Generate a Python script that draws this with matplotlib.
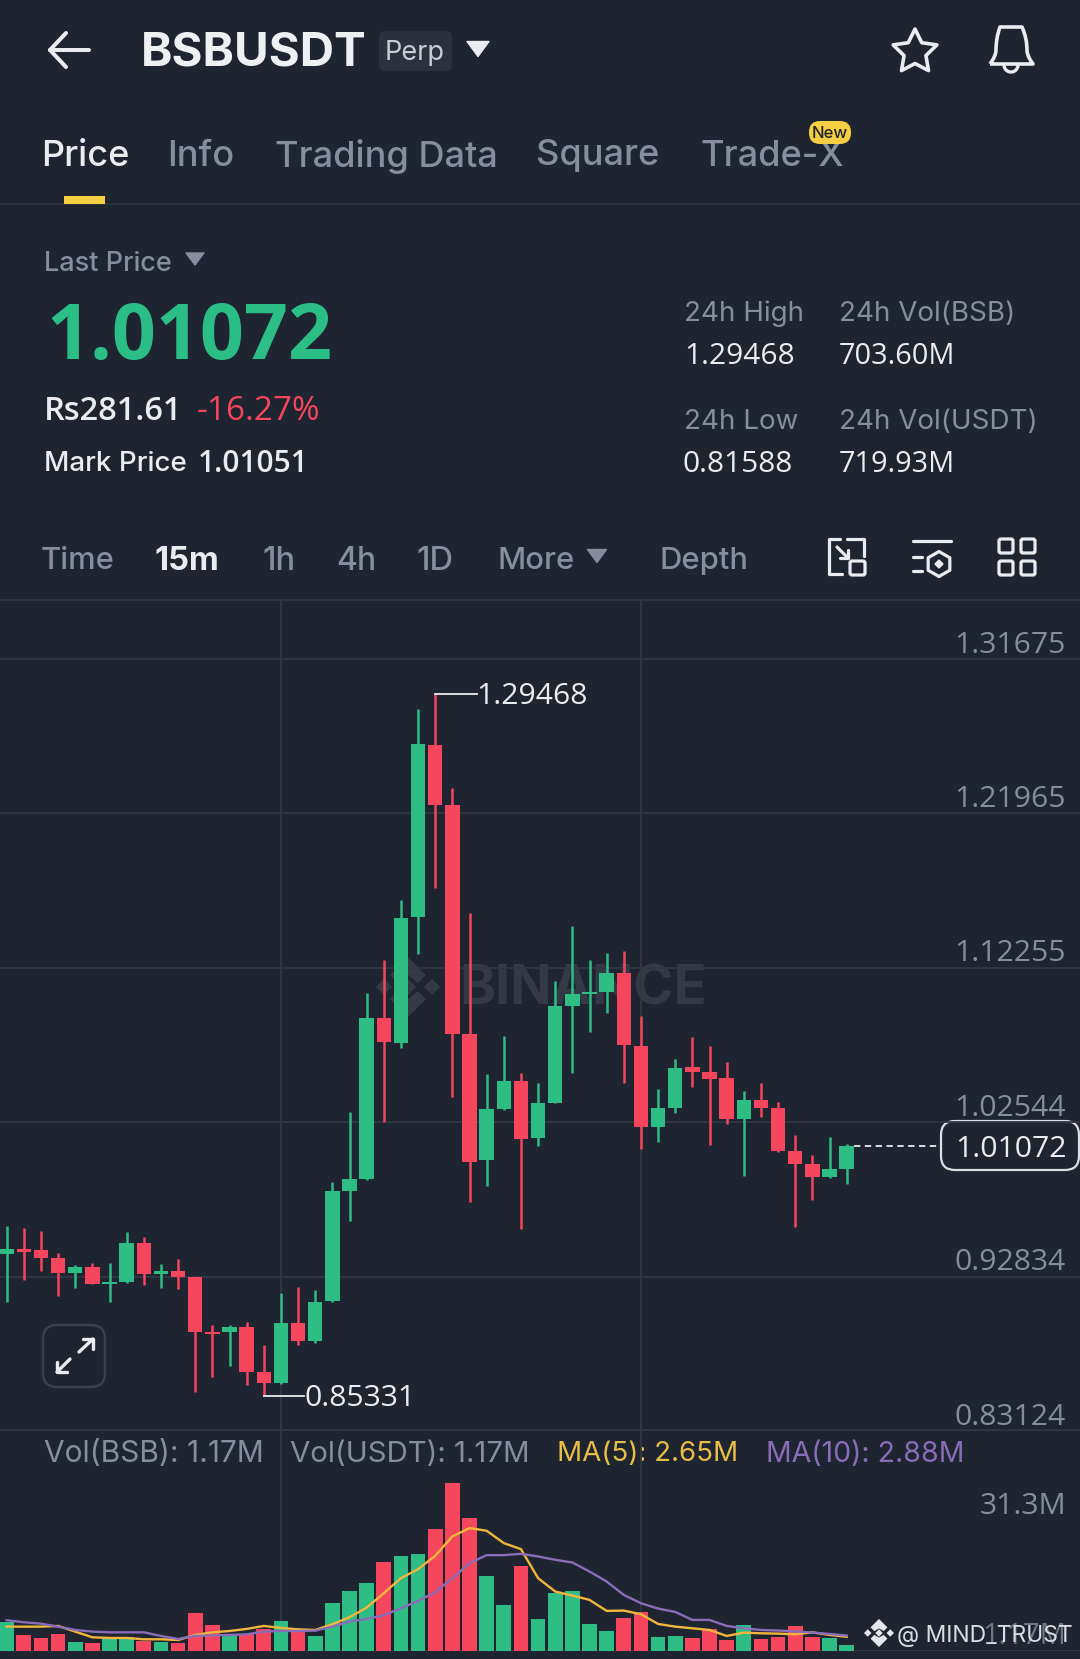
import numpy as np
import matplotlib
matplotlib.use("Agg")
import matplotlib.pyplot as plt
from matplotlib.patches import FancyBboxPatch, Polygon, Rectangle, PathPatch
from matplotlib.path import Path

# ---------- data ----------
opens = [0.9426,0.9457,0.9453,0.9400,0.9306,0.9342,0.9237,0.9252,0.9493,0.9300,
         0.9317,0.9281,0.8937,0.8935,0.8967,0.8686,0.8616,0.8990,0.8881,0.9128,
         0.9824,0.9897,1.0908,1.0753,1.1542,1.2629,1.2249,1.0812,1.0019,1.0340,
         1.0513,1.0156,1.0378,1.0983,1.1063,1.1075,1.1194,1.0734,1.0224,1.0342,
         1.0599,1.0568,1.0530,1.0277,1.0394,1.0344,1.0073,0.9992,0.9910,0.9960]
closes = [0.9457,0.9440,0.9400,0.9308,0.9342,0.9235,0.9252,0.9493,0.9302,0.9317,
          0.9283,0.8937,0.8920,0.8969,0.8686,0.8616,0.8990,0.8878,0.9126,0.9824,
          0.9895,1.0908,1.0758,1.1537,1.2631,1.2252,1.0810,1.0003,1.0340,1.0515,
          1.0151,1.0374,1.0987,1.1059,1.1075,1.1194,1.0738,1.0226,1.0342,1.0597,
          1.0570,1.0528,1.0277,1.0394,1.0344,1.0073,0.9994,0.9910,0.9958,1.01072]
highs = [0.9604,0.9587,0.9572,0.9430,0.9359,0.9367,0.9367,0.9562,0.9530,0.9361,
         0.9392,0.9281,0.8981,0.8979,0.8996,0.8851,0.9182,0.9220,0.9197,0.9881,
         1.0317,1.1070,1.1272,1.1650,1.2856,1.29468,1.2359,1.1571,1.0560,1.0796,
         1.0565,1.0502,1.1144,1.1486,1.1277,1.1317,1.1333,1.0924,1.0461,1.0650,
         1.0788,1.0736,1.0631,1.0451,1.0501,1.0379,1.0172,1.0048,1.0159,1.0115]
lows = [0.9122,0.9262,0.9321,0.9164,0.9214,0.9235,0.9122,0.9245,0.9231,0.9210,
        0.9206,0.8556,0.8650,0.8721,0.8602,0.85331,0.8610,0.8855,0.8864,0.9126,
        0.9633,0.9891,1.0255,1.0722,1.1310,1.1730,1.0416,0.9752,0.9853,1.0333,
        0.9581,1.0104,1.0378,1.0565,1.0823,1.0942,1.0504,1.0084,1.0132,1.0314,
        1.0478,1.0111,1.0243,0.9918,1.0285,1.0065,0.9597,0.9765,0.9906,0.9868]
volumes = [5.41,3.05,2.49,3.11,1.74,1.43,2.68,2.61,1.93,1.68,
           1.43,7.03,4.85,3.17,3.17,4.04,5.54,3.48,2.74,9.02,
           11.26,12.63,16.49,17.61,18.05,22.78,31.3,24.83,14.0,8.53,
           15.87,5.91,10.89,11.26,4.98,3.73,6.16,7.28,2.68,2.80,
           2.36,4.17,2.12,4.79,2.18,2.55,4.73,2.55,2.36,1.17]
ma5 = [4.54,4.54,4.54,4.67,3.61,2.55,2.43,2.43,2.18,2.18,
       2.05,2.99,3.48,3.73,4.11,4.67,4.29,4.04,3.92,4.98,
       6.29,8.09,10.77,13.57,15.25,17.74,21.35,22.9,22.4,20.1,
       18.98,13.57,11.08,10.33,9.52,7.47,7.53,6.85,5.04,4.54,
       4.23,3.92,2.80,3.42,3.30,3.24,3.11,3.48,2.99,2.65]
ma10 = [5.73,5.35,5.10,4.54,3.92,3.61,3.48,3.48,3.48,2.80,
        2.24,2.80,2.92,2.99,3.11,3.61,3.73,3.73,3.80,4.54,
        5.48,5.97,6.66,7.97,9.33,10.95,13.57,16.37,17.86,17.86,
        18.11,17.61,16.99,16.49,14.81,12.94,10.45,8.90,7.90,7.28,
        5.79,5.79,4.67,4.23,3.92,3.80,3.67,3.42,3.17,2.88]
price_ticks = [1.31675,1.21965,1.12255,1.02544,0.92834,0.83124]
price_labels = ["1.31675","1.21965","1.12255","1.02544","0.92834","0.83124"]
vgrid_candles = [16, 37]
tabs = ["Price","Info","Trading Data","Square","Trade-X"]
intervals = ["Time","15m","1h","4h","1D","More","Depth"]
last_price = 1.01072
day_high = 1.29468
period_low = 0.85331

# ---------- style ----------
BG = "#1E2430"; GRID = "#303642"; GREEN = "#2EBD85"; RED = "#F6465D"
GRAY = "#848E9C"; WHITE = "#EAECEF"; PUR = "#8A6DB8"; LINE = "#2E343F"
NUM = ['Open Sans', 'DejaVu Sans']
plt.rcParams['font.family'] = ['Inter', 'DejaVu Sans']
W, H = 1080, 1659
fig = plt.figure(figsize=(W/100, H/100), dpi=100, facecolor=BG)

def px_axes(l, t, r, b, z):
    return fig.add_axes([l/W, 1-b/H, (r-l)/W, (b-t)/H], zorder=z)

ui = px_axes(0, 0, W, H, 0)
ui.set_xlim(0, W); ui.set_ylim(H, 0); ui.axis("off"); ui.set_facecolor(BG)

def T(x, y, s, size, color=GRAY, weight="normal", ha="left", dy=3, **k):
    return ui.text(x, y+dy, s, fontsize=size, color=color, fontweight=weight, ha=ha, va="center", **k)

def tri(cx, cy, w, h, color):
    ui.add_patch(Polygon([[cx-w/2, cy-h/2], [cx+w/2, cy-h/2], [cx, cy+h/2]], closed=True, fc=color, ec=color, lw=1, joinstyle="round"))

def L(xs, ys, color=WHITE, lw=2.4, **k):
    ui.plot(xs, ys, color=color, lw=lw, solid_capstyle="round", solid_joinstyle="round", **k)

def rbox(x0, y0, x1, y1, r, fc="none", ec=WHITE, lw=2.0, z=2):
    ui.add_patch(FancyBboxPatch((x0+r, y0+r), x1-x0-2*r, y1-y0-2*r, boxstyle=f"round,pad={r},rounding_size={r}",
                                fc=fc, ec=ec, lw=lw, zorder=z))

def logo(cx, cy, R, color, z=1):
    s = R/32
    a, b, c, d = 30*s, 18*s, 10*s, 8*s
    ui.add_patch(Polygon([[cx, cy-a], [cx+b, cy-a+b], [cx+b-d, cy-a+b+d], [cx, cy-a+2*d+2], [cx-b+d, cy-a+b+d], [cx-b, cy-a+b]], closed=True, fc=color, ec="none", zorder=z))
    ui.add_patch(Polygon([[cx, cy+a], [cx+b, cy+a-b], [cx+b-d, cy+a-b-d], [cx, cy+a-2*d-2], [cx-b+d, cy+a-b-d], [cx-b, cy+a-b]], closed=True, fc=color, ec="none", zorder=z))
    for ox in (-24*s, 0, 24*s):
        ui.add_patch(Polygon([[cx+ox, cy-d], [cx+ox+d, cy], [cx+ox, cy+d], [cx+ox-d, cy]], closed=True, fc=color, ec="none", zorder=z))

# header
L([89, 50], [50, 50], lw=2.9); L([66, 50, 66], [33, 50, 67], lw=2.9)
T(141, 50, "BSBUSDT", 34.2, "#EEF0F2", "bold")
rbox(379, 31, 452, 71, 6, fc="#2B313C", ec="none", lw=0)
T(415, 50, "Perp", 19.5, "#C9CDD3", ha="center")
tri(478, 49, 22, 15, WHITE)
ang = np.arange(10)*np.pi/5 - np.pi/2
rad = np.where(np.arange(10) % 2 == 0, 23, 11.5)
ui.add_patch(Polygon(np.c_[915+rad*np.cos(ang), 52+rad*np.sin(ang)], closed=True, fc="none", ec=WHITE, lw=2.6, joinstyle="round"))
bell = Path([(990,64),(996,56),(996,50),(996,38),(1000,27),(1011,27),(1022,27),(1027,38),(1027,50),(1027,56),(1033,64),(990,64)],
            [Path.MOVETO,Path.CURVE3,Path.CURVE3,Path.CURVE3,Path.CURVE3,Path.CURVE3,Path.CURVE3,Path.CURVE3,Path.CURVE3,Path.CURVE3,Path.CURVE3,Path.LINETO])
ui.add_patch(PathPatch(bell, fc="none", ec=WHITE, lw=2.6, joinstyle="round"))
tt = np.linspace(0, np.pi, 20)
L(1011+7*np.cos(tt), 65+7*np.sin(tt))

# tabs
tab_x = [41, 167, 275, 536, 700]
for i, (x, s) in enumerate(zip(tab_x, tabs)):
    T(x, 152, s, 26, WHITE if i == 0 else GRAY, "medium", dy=4)
ui.add_patch(Rectangle((64, 196), 41, 7.5, fc="#F5CE42", ec="none", zorder=3))
ui.plot([0, W], [204, 204], color=LINE, lw=1.2)
rbox(809, 121, 851, 144, 11, fc="#F5CE42", ec="none", lw=0, z=4)
T(830, 133, "New", 12, "#1E2329", "medium", ha="center", dy=0, zorder=5)

# price block
T(44, 261, "Last Price", 19.5, GRAY, "medium")
tri(195, 259, 18, 12, GRAY)
T(46, 332, "1.01072", 55.5, "#2BBF87", "bold", dy=7, family=NUM)
T(44, 408, "Rs281.61", 23.5, WHITE, "semibold", family=NUM)
T(197, 408, "-16.27%", 24, RED, family=NUM)
T(44, 461, "Mark Price", 20, WHITE, "medium")
T(198, 461, "1.01051", 21.5, WHITE, "semibold", family=NUM)
T(684, 311, "24h High", 20); T(839, 311, "24h Vol(BSB)", 20)
T(684, 354, "1.29468", 21.5, WHITE, family=NUM); T(839, 354, "703.60M", 20.8, WHITE, family=NUM)
T(684, 419, "24h Low", 20); T(839, 419, "24h Vol(USDT)", 20)
T(683, 462, "0.81588", 21.5, WHITE, family=NUM); T(839, 462, "719.93M", 20.8, WHITE, family=NUM)

# interval bar
int_x = [41, 155, 262, 336, 417, 498, 660]
for x, s in zip(int_x, intervals):
    active = s == "15m"
    T(x, 558, s, 23.5 if active or s in ("1h", "1D") else (23 if s == "4h" else 22.3),
      WHITE if active else GRAY, "bold" if active else "medium")
tri(597, 556, 19, 13, GRAY)
ui.plot([0, W], [600, 600], color=LINE, lw=1.5)
# icon 1
L([840, 829, 829, 842], [539, 539, 574, 574], lw=2.3); L([847, 864, 864], [539, 539, 556], lw=2.3)
rbox(850, 561, 865, 575, 2, ec=WHITE, lw=2.3)
L([837, 848], [547, 558], lw=2.3); L([840, 848, 848], [558, 558, 550], lw=2.3)
# icon 2
L([913, 951], [541, 541], lw=2.3); L([913, 922], [557, 557], lw=2.3); L([913, 922], [571, 571], lw=2.3)
hx = 939+12.5*np.cos(np.arange(7)*np.pi/3+np.pi/2); hy = 564+12.5*np.sin(np.arange(7)*np.pi/3+np.pi/2)
L(hx, hy, lw=2.3)
ui.add_patch(Polygon([[939, 560], [943, 564], [939, 568], [935, 564]], closed=True, fc=WHITE, ec=WHITE))
# icon 3
for x0 in (999, 1021):
    for y0 in (539, 561):
        rbox(x0, y0, x0+14, y0+14, 2, ec=WHITE, lw=2.3)

# BINANCE watermark
WM = "#343A45"
logo(408, 987, 32, WM)
T(459, 987, "BINANCE", 39, WM, "bold", dy=3)

# ---------- price chart ----------
idx = np.arange(len(opens))
SP = 840/49
x0 = -6.67/SP
x1 = x0 + W/SP
Y_TOP, Y_BOT = 600, 1431
pppx = (price_ticks[0]-price_ticks[-1])/(Y_BOT-659)
ax = px_axes(0, Y_TOP, W, Y_BOT, 1)
ax.patch.set_alpha(0)
ax.set_xlim(x0, x1)
ax.set_ylim(price_ticks[-1], price_ticks[0]+(659-Y_TOP)*pppx)
for s in ax.spines.values():
    s.set_visible(False)
ax.tick_params(length=0, labelbottom=False, labelleft=False)
ax.set_xticks(vgrid_candles); ax.set_yticks(price_ticks)
ax.grid(True, color=GRID, lw=1.3); ax.set_axisbelow(True)
ax.hlines(price_ticks[-1], x0, x1, color=GRID, lw=2.6, zorder=1)

o, c, h, l = map(np.array, (opens, closes, highs, lows))
cols = np.where(c >= o, GREEN, RED)
ax.vlines(idx, l, h, colors=cols, lw=1.8, zorder=3)
ax.bar(idx, np.abs(c-o), bottom=np.minimum(o, c), width=0.84, color=cols, lw=0, zorder=4)

trY = ax.get_yaxis_transform()
for p, s in zip(price_ticks, price_labels):
    ax.annotate(s, (1, p), xycoords=trY, xytext=(-14/1.389, 14/1.389), textcoords="offset points",
                ha="right", va="center", fontsize=21.7, color=GRAY, zorder=2, family=NUM)

# last price tag
ax.plot([idx[-1]+0.4, (938-6.67)/SP], [last_price]*2, color=WHITE, lw=1.3, dashes=(3.5, 2.5), zorder=5)
ax.annotate(f"{last_price:.5f}", ((1011-6.67)/SP, last_price), xytext=(0, -3), textcoords="offset points",
            fontsize=21.7, color=WHITE, ha="center", va="center", zorder=7, family=NUM)
rbox(941, 1121, 1079, 1170, 14, fc=BG, ec="#DDE0E4", lw=1.6, z=6)

# extrema annotations
i_hi = int(np.argmax(h)); i_lo = int(np.argmin(l))
ax.plot([i_hi, i_hi+2.45], [day_high]*2, color=WHITE, lw=1.3, zorder=5)
ax.annotate(f"{day_high:.5f}", (i_hi+2.42, day_high), xytext=(0, -2), textcoords="offset points",
            fontsize=21.7, color=WHITE, ha="left", va="center", zorder=5, family=NUM)
ax.plot([i_lo, i_lo+2.35], [period_low]*2, color=WHITE, lw=1.3, zorder=5)
ax.annotate(f"{period_low:.5f}", (i_lo+2.38, period_low), xytext=(0, -2), textcoords="offset points",
            fontsize=21.7, color=WHITE, ha="left", va="center", zorder=5, family=NUM)

# expand button
rbox(43, 1325, 105, 1387, 14, ec="#3A404B", lw=1.8, z=5)
L([79, 93], [1352, 1339], lw=2.4); L([83, 93, 93], [1339, 1339, 1349], lw=2.4)
L([70, 57], [1359, 1372], lw=2.4); L([57, 57, 67], [1362, 1372, 1372], lw=2.4)

# ---------- volume chart ----------
VT, VB = 1431, 1651
vax = px_axes(0, VT, W, VB, 1)
vax.patch.set_alpha(0)
vax.set_xlim(x0, x1)
vax.set_ylim(0, 31.3/168*(VB-VT))
for s in vax.spines.values():
    s.set_visible(False)
vax.tick_params(length=0, labelbottom=False, labelleft=False)
vax.set_xticks(vgrid_candles); vax.set_yticks([])
vax.grid(True, axis="x", color=GRID, lw=1.3); vax.set_axisbelow(True)
vax.hlines(0, x0, x1, color=GRID, lw=1.3, zorder=1)
vax.bar(idx, volumes, width=0.86, color=cols, lw=0, zorder=3)
vax.plot(idx, ma5, color="#F2B63C", lw=1.7, zorder=4)
vax.plot(idx, ma10, color=PUR, lw=1.7, zorder=5)

T(44, 1451, "Vol(BSB): 1.17M", 21.5)
T(290, 1451, "Vol(USDT): 1.17M", 21.2)
T(557, 1451, "MA(5): 2.65M", 20, "#E8BE45")
T(766, 1451, "MA(10): 2.88M", 20.5, PUR)
T(1066, 1503, "31.3M", 21.7, ha="right", dy=4, family=NUM)
T(1066, 1633, "1.17M", 21, "#6E7683", ha="right", zorder=6, family=NUM)

# footer mark
logo(879, 1633, 15, "#E4E6E9", z=7)
T(897, 1633, "@ MIND_TRUST", 16.5, "#DADDE1", ha="left", zorder=7)

fig.savefig("out.png", dpi=100, facecolor=BG)
